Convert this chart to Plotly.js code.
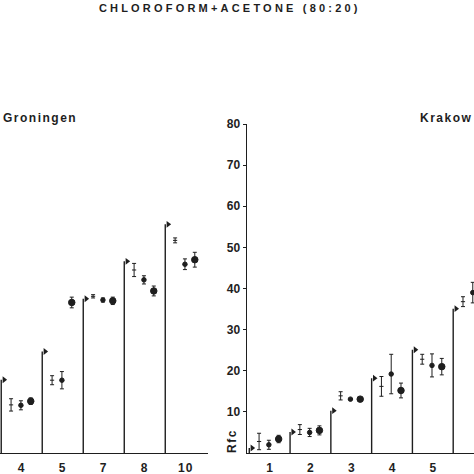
<!DOCTYPE html>
<html>
<head>
<meta charset="utf-8">
<script src="https://cdn.plot.ly/plotly-3.0.1.min.js"></script>
<style>
    body { margin: 0; background: #fff; }
    .annotation-text { letter-spacing: 1.5px; }
    g.annotation[data-index="0"] .annotation-text { letter-spacing: 3.2px; }
    .xtick text, .ytick text { letter-spacing: 1.2px; }
</style>
</head>
<body>
<div id="my_plot" style="width:474px;height:474px;"></div>
<script>
// Groningen panel (left)
groningen_labels = ["4", "5", "7", "8", "10"];
groningen_ref = [17.8, 24.7, 37.5, 46.6, 55.6]; // flag heights
groningen_i = [11.7, 17.7, 38.1, 44.5, 51.7];
groningen_i_err = [1.5, 1.1, 0.4, 1.6, 0.6];
groningen_dot = [11.6, 17.7, 37.2, 42.1, 45.9];
groningen_dot_err = [1.1, 2.1, 0.5, 1.0, 1.3];
groningen_big = [12.6, 36.6, 37.0, 39.4, 47.0];
groningen_big_err = [0.8, 1.3, 0.9, 1.2, 1.8];

// Krakow panel (right)
krakow_labels = ["1", "2", "3", "4", "5", "6"];
krakow_ref = [1.2, 5.1, 10.3, 18.2, 25.1, 35.1];
krakow_i = [2.8, 5.7, 13.9, 16.2, 22.8, 36.8];
krakow_i_err = [2.0, 1.2, 1.0, 2.4, 1.2, 1.2];
krakow_dot = [2.0, 5.0, 13.1, 19.2, 21.3, 39.0];
krakow_dot_err = [1.1, 1.0, 0, 4.8, 2.8, 2.5];
krakow_big = [3.4, 5.5, 13.1, 15.2, 21.0, null];
krakow_big_err = [0.9, 1.1, 0, 1.8, 2.0, null];

y_ticks = [10, 20, 30, 40, 50, 60, 70, 80];

var ink = "#1e1e1e";

function shifted(xs, d) {
    var out = [];
    for (var i = 0; i < xs.length; i++) {
        out.push(xs[i] + d);
    }
    return out;
}

// vertical line from 0 up to the reference value, left of each group
function ref_lines(xs, vals, xa, ya) {
    var x = [];
    var y = [];
    for (var i = 0; i < xs.length; i++) {
        x.push(xs[i] - 0.5, xs[i] - 0.5, null);
        y.push(0, vals[i], null);
    }
    return {
        type: "scatter", mode: "lines", x: x, y: y, xaxis: xa, yaxis: ya,
        line: {color: ink, width: 1.4}, hoverinfo: "skip",
    };
}

function flags(xs, vals, xa, ya) {
    return {
        type: "scatter", mode: "markers", x: shifted(xs, -0.43), y: vals,
        xaxis: xa, yaxis: ya,
        marker: {symbol: "triangle-right", size: 6, color: ink},
    };
}

function points(xs, vals, errs, d, sym, size, xa, ya) {
    return {
        type: "scatter", mode: "markers", x: shifted(xs, d), y: vals,
        xaxis: xa, yaxis: ya,
        marker: {symbol: sym, size: size, color: ink, line: {color: ink, width: 1}},
        error_y: {type: "data", array: errs, visible: true, color: ink, thickness: 1, width: 2},
    };
}

function make_plot() {
    var gx = [];
    for (var i = 0; i < groningen_labels.length; i++) gx.push(i);
    var kx = [];
    for (var i = 0; i < krakow_labels.length; i++) kx.push(i + 1);

    var data = [
        ref_lines(gx, groningen_ref, "x", "y"),
        flags(gx, groningen_ref, "x", "y"),
        points(gx, groningen_i, groningen_i_err, -0.26, "line-ew", 3, "x", "y"),
        points(gx, groningen_dot, groningen_dot_err, -0.02, "circle", 4.5, "x", "y"),
        points(gx, groningen_big, groningen_big_err, 0.22, "circle", 6.5, "x", "y"),

        ref_lines(kx, krakow_ref, "x2", "y2"),
        flags(kx, krakow_ref, "x2", "y2"),
        points(kx, krakow_i, krakow_i_err, -0.26, "line-ew", 3, "x2", "y2"),
        points(kx, krakow_dot, krakow_dot_err, -0.02, "circle", 4.5, "x2", "y2"),
        points(kx, krakow_big, krakow_big_err, 0.22, "circle", 6.5, "x2", "y2"),
    ];

    var fam = "Liberation Sans, Arial, sans-serif";
    var tick_font = {family: fam, size: 12, color: ink, weight: "bold"};

    var layout = {
        width: 474,
        height: 474,
        showlegend: false,
        hovermode: false,
        paper_bgcolor: "#fff",
        plot_bgcolor: "rgba(0,0,0,0)",
        margin: {l: 0, r: 0, t: 124, b: 21},
        font: tick_font,
        xaxis: {
            domain: [0, 0.4395],
            range: [-0.53, 4.55],
            tickvals: gx,
            ticktext: groningen_labels,
            showline: true, linecolor: ink, linewidth: 1.2,
            showgrid: false, zeroline: false, ticks: "",
            ticklabelstandoff: 3,
            tickfont: tick_font,
        },
        yaxis: {
            range: [0, 80],
            visible: false,
            showgrid: false, zeroline: false,
        },
        xaxis2: {
            domain: [0.5205, 1],
            anchor: "y2",
            range: [0.437, 6.01],
            tickvals: kx,
            ticktext: krakow_labels,
            showline: true, linecolor: ink, linewidth: 1.2,
            showgrid: false, zeroline: false, ticks: "",
            ticklabelstandoff: 3,
            tickfont: tick_font,
        },
        yaxis2: {
            anchor: "x2",
            range: [0, 80],
            tickvals: y_ticks,
            showline: true, linecolor: ink, linewidth: 1.2,
            ticks: "outside", ticklen: 3, tickcolor: ink,
            showgrid: false, zeroline: false,
            tickfont: tick_font,
        },
        annotations: [
            {
                text: "CHLOROFORM+ACETONE (80:20)",
                xref: "paper", yref: "paper", x: 230 / 474, y: (453 - 8) / 329,
                xanchor: "center", yanchor: "middle", showarrow: false,
                font: {family: fam, size: 11, color: ink, weight: "bold"},
            },
            {
                text: "Groningen",
                xref: "paper", yref: "paper", x: 1 / 474, y: (453 - 118) / 329,
                xanchor: "left", yanchor: "middle", showarrow: false,
                font: {family: fam, size: 12, color: ink, weight: "bold"},
            },
            {
                text: "Krakow",
                xref: "paper", yref: "paper", x: 1, y: (453 - 118) / 329,
                xanchor: "right", yanchor: "middle", showarrow: false,
                font: {family: fam, size: 12, color: ink, weight: "bold"},
            },
            {
                text: "Rfc",
                xref: "paper", yref: "paper", x: 232 / 474, y: (453 - 441) / 329,
                xanchor: "center", yanchor: "middle", showarrow: false, textangle: -90,
                font: {family: fam, size: 12, color: ink, weight: "bold"},
            },
        ],
    };

    Plotly.newPlot("my_plot", data, layout, {staticPlot: true});
}

make_plot();
</script>
</body>
</html>
